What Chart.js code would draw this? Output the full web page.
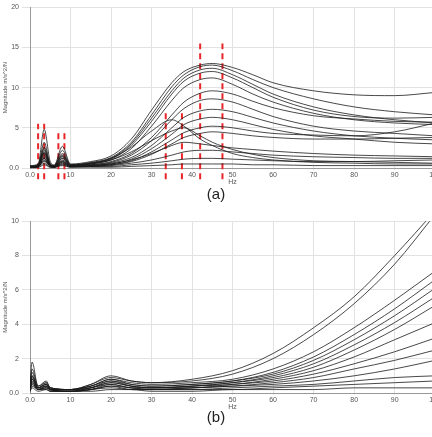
<!DOCTYPE html>
<html>
<head>
<meta charset="utf-8">
<script src="https://cdn.jsdelivr.net/npm/chart.js@4"></script>
<style>
  body { margin: 0; width: 432px; height: 437px; overflow: hidden; background: #fff; font-family: "Liberation Sans", Arial, sans-serif; }
  .box { position: absolute; left: 0; width: 442px; }
  .cap { position: absolute; width: 432px; text-align: center; font-size: 15px; color: #222; }
</style>
</head>
<body>
<div class="box" style="top:0;height:186px"><canvas id="chartA"></canvas></div>
<div class="cap" style="top:185px">(a)</div>
<div class="box" style="top:214px;height:197px"><canvas id="chartB"></canvas></div>
<div class="cap" style="top:408px">(b)</div>
<script>
// Panel (a) frequencies and curves
const topX = [0, 2, 3.5, 5, 6, 8, 10, 15, 20, 25, 30, 35, 38, 42, 45, 50, 55, 60, 70, 80, 90, 100];
const topCurves = [
  [0.3, 0.5, 4.8, 0.8, 0.4, 2.7, 0.5, 0.8, 1.5, 3.6, 7.2, 10.6, 12.0, 12.8, 13.0, 12.5, 11.6, 10.6, 9.6, 9.1, 9.0, 9.4],
  [0.2, 0.4, 3.2, 0.5, 0.3, 2.2, 0.4, 0.7, 1.3, 3.2, 6.6, 10.1, 11.6, 12.6, 12.8, 12.1, 11.0, 10.0, 8.6, 7.6, 7.0, 6.6],
  [0.2, 0.4, 2.6, 0.5, 0.3, 1.8, 0.4, 0.6, 1.2, 3.0, 6.2, 9.6, 11.2, 12.2, 12.4, 11.6, 10.4, 9.2, 7.6, 6.6, 6.0, 5.6],
  [0.2, 0.3, 2.2, 0.4, 0.3, 1.5, 0.3, 0.6, 1.1, 2.8, 5.8, 9.2, 10.8, 11.8, 12.0, 11.2, 10.0, 8.8, 7.2, 6.4, 6.2, 6.3],
  [0.2, 0.3, 2.0, 0.4, 0.2, 1.4, 0.3, 0.5, 1.0, 2.4, 5.2, 8.4, 10.0, 11.0, 11.2, 10.4, 9.2, 8.2, 6.8, 6.0, 5.6, 5.4],
  [0.1, 0.3, 1.8, 0.3, 0.2, 1.2, 0.3, 0.4, 0.8, 1.8, 3.8, 6.6, 8.2, 9.3, 9.6, 9.2, 8.3, 7.5, 6.5, 6.1, 5.8, 5.7],
  [0.1, 0.2, 1.6, 0.3, 0.2, 1.0, 0.3, 0.4, 0.7, 1.6, 3.4, 6.0, 7.4, 8.4, 8.6, 8.2, 7.3, 6.4, 5.2, 4.6, 4.3, 4.0],
  [0.1, 0.2, 1.4, 0.3, 0.2, 0.9, 0.2, 0.3, 0.6, 1.3, 2.8, 5.0, 6.3, 7.1, 7.3, 7.0, 6.3, 5.6, 4.6, 4.0, 3.7, 3.5],
  [0.1, 0.2, 1.2, 0.2, 0.2, 0.8, 0.2, 0.3, 0.5, 1.1, 2.4, 4.2, 5.4, 6.1, 6.3, 6.0, 5.4, 4.8, 4.0, 3.6, 3.2, 3.0],
  [0.1, 0.2, 1.0, 0.2, 0.1, 0.7, 0.2, 0.3, 0.4, 0.9, 2.0, 3.5, 4.4, 5.0, 5.2, 5.0, 4.6, 4.3, 4.1, 4.0, 4.5, 5.6],
  [0.1, 0.2, 0.9, 0.2, 0.1, 0.6, 0.2, 0.2, 0.4, 0.8, 1.7, 3.0, 3.8, 4.3, 4.5, 4.3, 4.0, 3.8, 3.6, 3.6, 3.7, 3.8],
  [0.2, 0.3, 2.4, 0.4, 0.3, 1.6, 0.4, 0.6, 1.2, 2.6, 4.6, 6.0, 5.2, 3.6, 2.8, 1.8, 1.3, 1.0, 0.7, 0.6, 0.5, 0.5],
  [0.1, 0.3, 1.9, 0.3, 0.2, 1.2, 0.3, 0.5, 1.0, 2.0, 3.4, 4.6, 5.0, 4.0, 3.2, 2.3, 1.7, 1.3, 0.9, 0.8, 0.7, 0.6],
  [0.1, 0.2, 1.2, 0.2, 0.1, 0.8, 0.2, 0.3, 0.5, 1.0, 1.8, 2.8, 3.2, 3.0, 2.8, 2.5, 2.3, 2.1, 1.8, 1.6, 1.5, 1.4],
  [0.1, 0.2, 0.8, 0.2, 0.1, 0.5, 0.2, 0.2, 0.3, 0.6, 1.0, 1.6, 2.0, 2.2, 2.2, 2.0, 1.8, 1.6, 1.4, 1.3, 1.2, 1.2],
  [0.1, 0.1, 0.6, 0.1, 0.1, 0.4, 0.1, 0.2, 0.2, 0.4, 0.6, 0.9, 1.1, 1.2, 1.2, 1.1, 1.0, 0.9, 0.8, 0.8, 0.9, 1.0],
  [0.1, 0.1, 0.4, 0.1, 0.1, 0.3, 0.1, 0.1, 0.1, 0.2, 0.3, 0.4, 0.5, 0.5, 0.5, 0.5, 0.4, 0.4, 0.3, 0.3, 0.3, 0.3]
];
// red dashed markers: position (Hz) and top (magnitude)
const markerX = [2, 3.5, 7, 8.5, 33.5, 37.5, 42, 47.5];
const markerTop = [5.5, 5.5, 4.5, 4.5, 7.0, 7.0, 15.5, 15.5];

// Panel (b) frequencies and curves
const botX = [0, 0.5, 2, 4, 5, 10, 15, 20, 25, 30, 40, 50, 60, 70, 80, 90, 100];
const botCurves = [
  [0.4, 1.8, 0.4, 0.7, 0.3, 0.2, 0.5, 1.0, 0.7, 0.6, 0.8, 1.3, 2.3, 3.8, 5.6, 8.0, 10.6],
  [0.3, 1.4, 0.4, 0.6, 0.3, 0.2, 0.5, 0.9, 0.7, 0.6, 0.7, 1.1, 2.0, 3.4, 5.2, 7.5, 10.4],
  [0.3, 1.2, 0.3, 0.6, 0.3, 0.2, 0.4, 0.8, 0.6, 0.5, 0.6, 0.8, 1.4, 2.4, 3.8, 5.4, 7.1],
  [0.3, 1.0, 0.3, 0.5, 0.3, 0.2, 0.4, 0.8, 0.5, 0.4, 0.5, 0.7, 1.2, 2.1, 3.4, 4.9, 6.6],
  [0.2, 1.0, 0.3, 0.5, 0.2, 0.2, 0.4, 0.7, 0.5, 0.4, 0.5, 0.7, 1.1, 1.9, 3.1, 4.5, 6.1],
  [0.2, 0.9, 0.3, 0.5, 0.2, 0.2, 0.3, 0.7, 0.4, 0.3, 0.4, 0.6, 1.0, 1.7, 2.8, 4.1, 5.6],
  [0.2, 0.8, 0.3, 0.4, 0.2, 0.2, 0.3, 0.6, 0.4, 0.3, 0.4, 0.6, 0.9, 1.5, 2.5, 3.7, 5.1],
  [0.2, 0.8, 0.2, 0.4, 0.2, 0.1, 0.3, 0.6, 0.4, 0.3, 0.4, 0.5, 0.8, 1.3, 2.1, 3.1, 4.1],
  [0.2, 0.7, 0.2, 0.4, 0.2, 0.1, 0.3, 0.5, 0.3, 0.3, 0.3, 0.5, 0.7, 1.1, 1.7, 2.4, 3.2],
  [0.2, 0.6, 0.2, 0.3, 0.2, 0.1, 0.2, 0.5, 0.3, 0.2, 0.3, 0.4, 0.6, 0.9, 1.4, 1.9, 2.5],
  [0.1, 0.6, 0.2, 0.3, 0.2, 0.1, 0.2, 0.4, 0.3, 0.2, 0.3, 0.4, 0.5, 0.7, 1.0, 1.4, 1.9],
  [0.1, 0.5, 0.2, 0.3, 0.1, 0.1, 0.2, 0.4, 0.2, 0.2, 0.2, 0.3, 0.4, 0.5, 0.7, 0.9, 1.0],
  [0.1, 0.4, 0.2, 0.2, 0.1, 0.1, 0.2, 0.3, 0.2, 0.2, 0.2, 0.2, 0.3, 0.4, 0.5, 0.6, 0.7],
  [0.1, 0.3, 0.1, 0.2, 0.1, 0.1, 0.1, 0.2, 0.2, 0.1, 0.1, 0.2, 0.2, 0.2, 0.3, 0.3, 0.3]
];

const tickFont = { size: 7, family: "Liberation Sans" };

function curveSets(xs, curves) {
  return curves.map((c) => ({
    data: xs.map((x, i) => ({ x: x, y: c[i] })),
    borderColor: "#1a1a1a",
    borderWidth: 0.8,
    pointRadius: 0,
    showLine: true,
    tension: 0.4,
    cubicInterpolationMode: "monotone",
  }));
}

function makeChart(id, datasets, yMax, yStep) {
  return new Chart(document.getElementById(id), {
    type: "scatter",
    data: { datasets: datasets },
    options: {
      animation: false,
      responsive: true,
      maintainAspectRatio: false,
      layout: { padding: { top: 3, right: 0, left: 0, bottom: 0 } },
      plugins: { legend: { display: false }, tooltip: { enabled: false } },
      scales: {
        x: {
          min: 0, max: 100,
          ticks: { stepSize: 10, font: tickFont, color: "#555", maxRotation: 0, padding: 1,
            callback: (v) => (v === 0 ? "0.0" : v) },
          grid: { color: "#e2e2e2", tickLength: 2 },
          border: { color: "#999", width: 1 },
          title: { display: true, text: "Hz", font: tickFont, color: "#555", padding: 0 },
          afterFit: (s) => { s.height = 18; },
        },
        y: {
          min: 0, max: yMax,
          ticks: { stepSize: yStep, font: tickFont, color: "#555",
            callback: (v) => (v === 0 ? "0.0" : v) },
          grid: { color: "#e2e2e2" },
          border: { color: "#999", width: 1 },
          title: { display: true, text: "Magnitude m/s^2/N", font: { size: 6, family: "Liberation Sans" }, color: "#555", padding: 2 },
          afterFit: (s) => { s.width = 30; },
        },
      },
    },
  });
}

const setsA = curveSets(topX, topCurves);
markerX.forEach((x, i) => {
  setsA.push({
    data: [{ x: x, y: -1.4 }, { x: x, y: markerTop[i] }],
    borderColor: "#e8262a",
    borderWidth: 2,
    borderDash: [6, 4],
    pointRadius: 0,
    showLine: true,
    clip: false,
  });
});

makeChart("chartA", setsA, 20, 5);
makeChart("chartB", curveSets(botX, botCurves), 10, 2);
</script>
</body>
</html>
